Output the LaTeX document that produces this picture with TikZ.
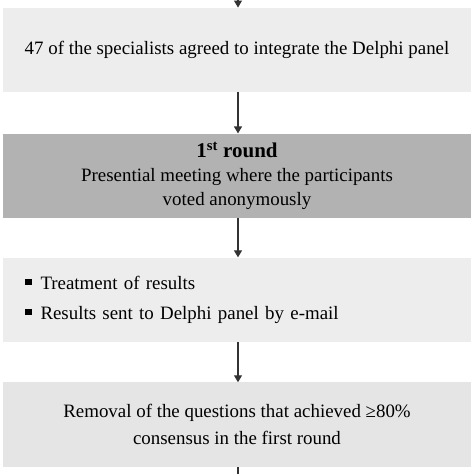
\documentclass[tikz,border=0pt]{standalone}
\usepackage{fontspec}
\setmainfont{Liberation Serif}
\usetikzlibrary{positioning,arrows.meta}

\tikzstyle{stage}=[fill=black!7, minimum width=468pt, minimum height=84.5pt, inner sep=0pt, align=center, font={\fontsize{18.9}{24}\selectfont}]
\tikzstyle{roundstage}=[stage, fill=black!30]
\tikzstyle{flow}=[draw=black!80, line width=1.1pt, -{Triangle[length=7pt,width=8pt]}]
\tikzstyle{stub}=[draw=black!80, line width=1.1pt]
\newcommand{\itembox}{\raisebox{4pt}{\rule{6.5pt}{6.5pt}}\hspace{9pt}}

\begin{document}
\begin{tikzpicture}[x=1pt,y=1pt]
    \useasboundingbox (0,0) rectangle (474,-474);
    \node [stage] (specialists) at (237,-50) {47 of the specialists agreed to integrate the Delphi panel};
    \node [roundstage, below=41pt of specialists] (firstround)
        {{\fontsize{21}{24}\selectfont\textbf{1\textsuperscript{st} round}}\\Presential meeting where the participants\\voted anonymously};
    \node [stage, below=39pt of firstround, text width=424pt, align=left] (treatment)
        {\itembox Treatment of results\\[6pt]\itembox Results sent to Delphi panel by e-mail};
    \node [stage, fill=black!10, below=40pt of treatment, font={\fontsize{18.9}{27}\selectfont}] (removal)
        {Removal of the questions that achieved ≥80\%\\consensus in the first round};

    \coordinate (top) at (238,0);
    \coordinate (bottom) at (238,-474);
    \draw [flow] (top) -- (specialists.north -| top);
    \draw [flow] (specialists.south -| top) -- (firstround.north -| top);
    \draw [flow] (firstround.south -| top) -- (treatment.north -| top);
    \draw [flow] (treatment.south -| top) -- (removal.north -| top);
    \draw [stub] (removal.south -| bottom) -- (bottom);
\end{tikzpicture}
\end{document}
